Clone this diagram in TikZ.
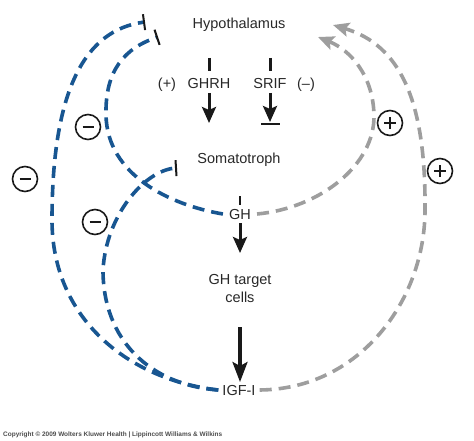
\documentclass[tikz,border=0pt]{standalone}
\usepackage{fontspec}
\setmainfont{Liberation Sans}
\usepackage{graphicx}
\usetikzlibrary{arrows.meta,calc}
\definecolor{fbblue}{RGB}{24,86,145}
\definecolor{fbgray}{RGB}{158,158,158}
\definecolor{txt}{RGB}{40,40,40}
\definecolor{blk}{RGB}{25,25,25}
\begin{document}
\begin{tikzpicture}[x=1pt,y=-1pt,
  lbl/.style={inner sep=0pt, text=txt, font=\fontsize{14.5}{18}\selectfont, text height=10.4pt, text depth=0pt},
  lblml/.style={inner sep=0pt, text=txt, font=\fontsize{14.5}{18}\selectfont, align=center},
  blkarrow/.style={draw=blk, line width=3pt, -{Stealth[length=16pt,width=14pt,inset=3pt]}},
  bigarrow/.style={draw=blk, line width=3.2pt, -{Stealth[length=20pt,width=15pt,inset=4pt]}},
  blkbar/.style={draw=blk, line width=3pt},
  bluedash/.style={draw=fbblue, line width=3.6pt, dash pattern=on 12pt off 7pt, -{Bar[width=16pt,line width=2pt,color=blk]}},
  graydash/.style={draw=fbgray, line width=3.6pt, dash pattern=on 12pt off 7pt, -{Stealth[length=16pt,width=14pt,inset=3pt,color=fbgray]}},
  sign/.style={circle, draw=blk, line width=1.6pt, minimum size=25pt, inner sep=0pt},
  minussign/.style={sign, path picture={\draw[line width=1.6pt,blk] ([xshift=-5.5pt]path picture bounding box.center) -- ([xshift=5.5pt]path picture bounding box.center);}},
  plussign/.style={sign, path picture={\draw[line width=1.6pt,blk] ([xshift=-6pt]path picture bounding box.center) -- ([xshift=6pt]path picture bounding box.center) ([yshift=-6pt]path picture bounding box.center) -- ([yshift=6pt]path picture bounding box.center);}}
]
\useasboundingbox (0,0) rectangle (474,441);

% text nodes
\node[lbl] (hyp) at (239,23) {Hypothalamus};
\node[lbl] (ghrh) at (209,83) {GHRH};
\node[lbl] (plus) at (167,83) {(+)};
\node[lbl] (srif) at (270,83) {SRIF};
\node[lbl] (minus) at (306,83) {(–)};
\node[lbl] (soma) at (239,158) {Somatotroph};
\node[lbl, inner xsep=6pt] (gh) at (240,214) {GH};
\node[lblml] (tgt) at (240,289) {GH target\\cells};
\node[lbl, inner xsep=4pt] (igf) at (239,390) {IGF-I};

% coordinates for the black arrows
\coordinate (ghrhbarA) at (209,58);
\coordinate (ghrhbarB) at (209,71);
\coordinate (ghrhA) at (209,93);
\coordinate (ghrhB) at (209,123);
\coordinate (srifbarA) at (270,58);
\coordinate (srifbarB) at (270,71);
\coordinate (srifA) at (270,93);
\coordinate (srifB) at (270,122);
\coordinate (srifL) at (261,124.5);
\coordinate (srifR) at (280,124.5);
\coordinate (ghbarA) at (240,196);
\coordinate (ghbarB) at (240,205);
\coordinate (ghA) at (240,223);
\coordinate (ghB) at (240,253);
\coordinate (tgtA) at (240,327);
\coordinate (tgtB) at (240,382);

\draw[blkbar] (ghrhbarA) -- (ghrhbarB);
\draw[blkarrow] (ghrhA) -- (ghrhB);
\draw[blkbar] (srifbarA) -- (srifbarB);
\draw[blkarrow] (srifA) -- (srifB);
\draw[draw=blk, line width=2pt] (srifL) -- (srifR);
\draw[draw=blk, line width=2.6pt] (ghbarA) -- (ghbarB);
\draw[blkarrow] (ghA) -- (ghB);
\draw[bigarrow] (tgtA) -- (tgtB);

% feedback end points
\coordinate (t1) at (145,22);
\coordinate (t2) at (158,37);
\coordinate (t3) at (177,168);
\coordinate (a1) at (318,37);
\coordinate (a2) at (333,25);

% blue negative feedback
\draw[bluedash] (igf.west) .. controls (130,380) and (52,320) .. (52,220)
  .. controls (52,90) and (85,30) .. (t1);
\draw[bluedash] (igf.west) .. controls (150,385) and (103,340) .. (103,270)
  .. controls (106,215) and (145,170) .. (t3);
\draw[bluedash] (gh.west) .. controls (170,205) and (107,175) .. (106,115)
  .. controls (105,70) and (125,48) .. (t2);

% gray positive feedback
\draw[graydash] (gh.east) .. controls (320,208) and (375,165) .. (374,115)
  .. controls (373,75) and (350,50) .. (a1);
\draw[graydash] (igf.east) .. controls (360,389) and (425,300) .. (425,210)
  .. controls (426,100) and (400,45) .. (a2);

% signs
\node[minussign] (m1) at (25,179) {};
\node[minussign] (m2) at (88,127) {};
\node[minussign] (m3) at (95,222) {};
\node[plussign] (p1) at (390,123) {};
\node[plussign] (p2) at (440,171) {};

% copyright
\node[anchor=west, inner sep=0pt, text=black!70] (copy) at (3,435)
  {\resizebox{219pt}{!}{\bfseries Copyright © 2009 Wolters Kluwer Health | Lippincott Williams \& Wilkins}};
\end{tikzpicture}
\end{document}
